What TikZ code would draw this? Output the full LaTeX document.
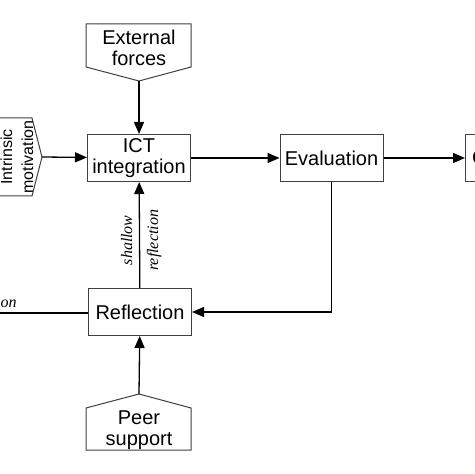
\documentclass[tikz,border=0pt]{standalone}
\usepackage{fontspec}
\setmainfont{Liberation Sans}
\newfontfamily\labelfont{Liberation Serif}
\usetikzlibrary{arrows.meta,positioning}

\begin{document}
\begin{tikzpicture}[x=0.5pt,y=-0.5pt,
    box/.style={draw=black!75,line width=0.5pt,fill=white,
      minimum width=51.5pt,minimum height=23.5pt,inner sep=1pt,
      align=center,font=\fontsize{10}{10.5}\selectfont},
    tag/.style={draw=black!75,line width=0.5pt,fill=white},
    flow/.style={-{Triangle[length=6pt,width=5pt]},line width=0.65pt},
    lbl/.style={font=\labelfont\itshape\fontsize{8}{9}\selectfont}]
    \useasboundingbox (0,0) rectangle (474,474);
    \def\cx{139} % centre line of the left column
    % main process boxes
    \node[box] (ict)  at (\cx,158)   {ICT\\integration};
    \node[box] (eval) at (331.5,158) {Evaluation};
    \node[box] (refl) at (140,312)   {Reflection};
    \node[box,text width=45pt,align=left,anchor=west] (next) at (465,158) {C};
    % input tags (pentagons)
    \draw[tag] (86,24) -- (191,24) -- (191,67) -- (\cx,81) -- (86,67) -- cycle;
    \node[font=\fontsize{10}{10.5}\selectfont,align=center] (extlbl) at (\cx,48) {External\\forces};
    \coordinate (ext) at (\cx,81);
    \draw[tag] (86,450) -- (191,450) -- (191,408) -- (\cx,394) -- (86,408) -- cycle;
    \node[font=\fontsize{10}{10.5}\selectfont,align=center] (peerlbl) at (\cx,430) {Peer\\support};
    \coordinate (peer) at (\cx,394);
    \draw[tag] (-14,118) -- (32,118) -- (42,157) -- (32,196) -- (-14,196) -- cycle;
    \node[rotate=90,font=\fontsize{8}{10.5}\selectfont,align=center] (intrlbl) at (17,157) {Intrinsic\\motivation};
    \coordinate (intr) at (42,157);
    % connectors
    \draw[flow] (ext) -- (ict);
    \draw[flow] (intr) -- (ict);
    \draw[flow] (ict) -- (eval);
    \draw[flow] (eval) -- (next);
    \draw[flow] (eval.south) |- (refl.east);
    \draw[flow] (peer) -- (refl);
    \draw[flow] (refl) -- (ict)
      node[pos=0.45,lbl,rotate=90,above] (shallow) {shallow}
      node[pos=0.45,lbl,rotate=90,below] (shrefl) {reflection};
    \coordinate (deep) at (-20,313);
    \draw[line width=0.65pt] (refl.west |- deep) -- (deep);
    \node[lbl,inner sep=0pt,anchor=base east] (deeplbl) at (17,307) {on};
\end{tikzpicture}
\end{document}
